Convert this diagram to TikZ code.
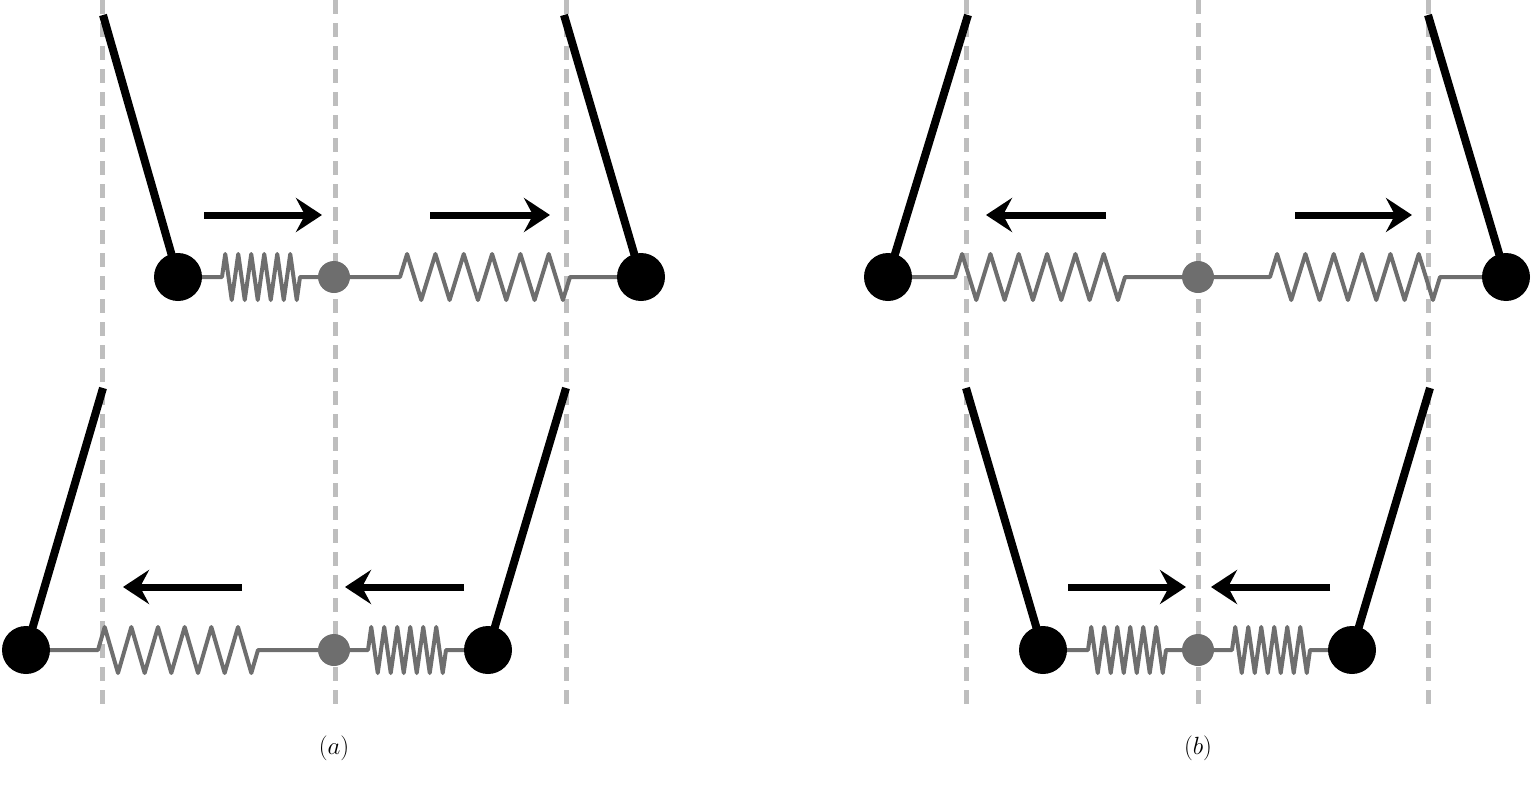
\documentclass[tikz,border=0pt]{standalone}
\usetikzlibrary{arrows.meta}
\definecolor{sg}{RGB}{110,110,110}
\definecolor{dg}{RGB}{190,190,190}
\tikzset{
 guide/.style={dg,line width=5pt,dash pattern=on 14pt off 9pt},
 rod/.style={black,line width=8pt},
 ball/.style={circle,fill=black,minimum size=48pt,inner sep=0pt},
 mball/.style={circle,fill=sg,minimum size=32pt,inner sep=0pt},
 spr/.style={sg,line width=4pt,line join=round},
 force/.style={black,line width=7pt,-{Stealth[length=26pt,width=34pt,inset=9pt]}},
 lab/.style={font=\fontsize{48}{56}\selectfont}
}
% \spr{y}{x0}{xa}{xb}{x1}{n}
\newcommand{\myspring}[6]{%
 \pgfmathsetmacro{\w}{(#4-#3)/#6}%
 \draw[spr] (#2,#1) -- (#3,#1)
  \foreach \k in {1,...,#6}{ -- ({#3+(\k-0.75)*\w},#1-23) -- ({#3+(\k-0.25)*\w},#1+23)} -- (#4,#1) -- (#5,#1);}
\begin{document}
\begin{tikzpicture}[x=1pt,y=-1pt]
\useasboundingbox (0,0) rectangle (1531,787);
\foreach \x in {102,335,566,966,1198,1428} \draw[guide] (\x,0) -- (\x,705);
% panel a top
\myspring{277}{178}{222}{300}{334}{6}
\myspring{277}{334}{400}{570}{641}{6}
\node[ball] (a1) at (178,277) {}; \node[ball] (a2) at (641,277) {}; \node[mball] (am) at (334,277) {};
\coordinate (a1t) at (103,15); \coordinate (a2t) at (564,15);
\draw[rod] (a1t) -- (a1.center); \draw[rod] (a2t) -- (a2.center);
\coordinate (f1s) at (204,215); \coordinate (f1e) at (322,215);
\coordinate (f2s) at (430,215); \coordinate (f2e) at (550,215);
\draw[force] (f1s) -- (f1e); \draw[force] (f2s) -- (f2e);
% panel a bottom
\myspring{650}{26}{98}{258}{334}{6}
\myspring{650}{334}{368}{446}{488}{6}
\node[ball] (b1) at (26,650) {}; \node[ball] (b2) at (488,650) {}; \node[mball] (bm) at (334,650) {};
\coordinate (b1t) at (103,388); \coordinate (b2t) at (566,388);
\draw[rod] (b1t) -- (b1.center); \draw[rod] (b2t) -- (b2.center);
\coordinate (g1s) at (242,587); \coordinate (g1e) at (123,587);
\coordinate (g2s) at (464,587); \coordinate (g2e) at (345,587);
\draw[force] (g1s) -- (g1e); \draw[force] (g2s) -- (g2e);
% panel b top
\myspring{277}{888}{955}{1125}{1198}{6}
\myspring{277}{1198}{1270}{1440}{1506}{6}
\node[ball] (c1) at (888,277) {}; \node[ball] (c2) at (1506,277) {}; \node[mball] (cm) at (1198,277) {};
\coordinate (c1t) at (968,15); \coordinate (c2t) at (1428,15);
\draw[rod] (c1t) -- (c1.center); \draw[rod] (c2t) -- (c2.center);
\coordinate (h1s) at (1106,215); \coordinate (h1e) at (986,215);
\coordinate (h2s) at (1295,215); \coordinate (h2e) at (1412,215);
\draw[force] (h1s) -- (h1e); \draw[force] (h2s) -- (h2e);
% panel b bottom
\myspring{650}{1043}{1088}{1166}{1198}{6}
\myspring{650}{1198}{1232}{1310}{1352}{6}
\node[ball] (d1) at (1043,650) {}; \node[ball] (d2) at (1352,650) {}; \node[mball] (dm) at (1198,650) {};
\coordinate (d1t) at (966,388); \coordinate (d2t) at (1430,388);
\draw[rod] (d1t) -- (d1.center); \draw[rod] (d2t) -- (d2.center);
\coordinate (k1s) at (1068,587); \coordinate (k1e) at (1186,587);
\coordinate (k2s) at (1330,587); \coordinate (k2e) at (1211,587);
\draw[force] (k1s) -- (k1e); \draw[force] (k2s) -- (k2e);
% labels
\node[lab] (la) at (334,748) {$(a)$};
\node[lab] (lb) at (1198,748) {$(b)$};
\end{tikzpicture}
\end{document}
